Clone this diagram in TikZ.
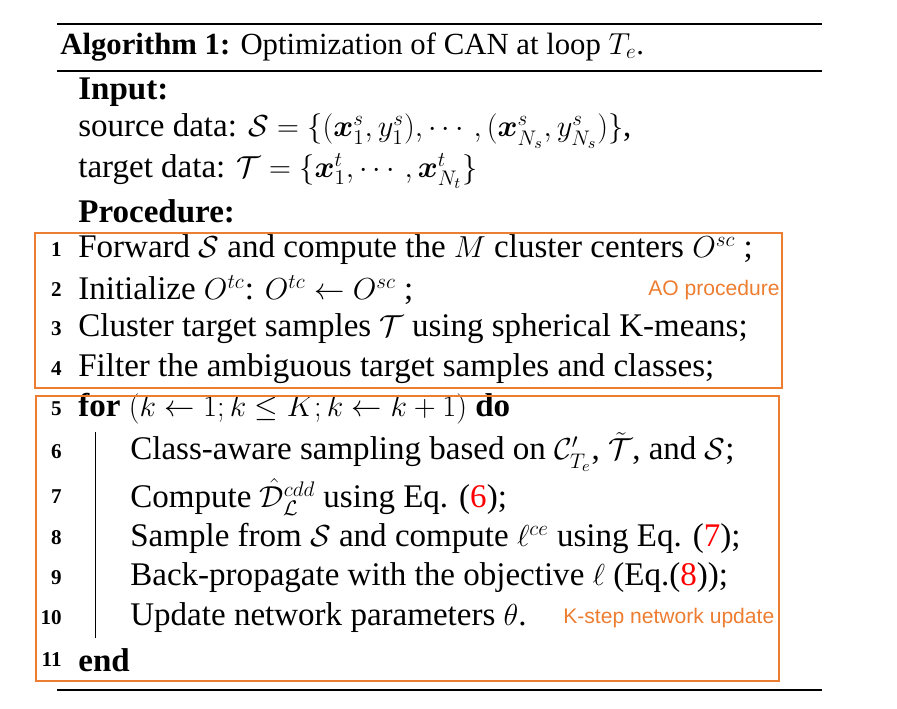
\documentclass[tikz,border=0pt]{standalone}
\usepackage{amsmath,amssymb,bm}
\usepackage{fontspec}
\setmainfont{Liberation Serif}
\newfontfamily\sansf{Liberation Sans}
\usepackage{xcolor}
\definecolor{aoorange}{RGB}{237,125,49}
\newcommand{\xv}{\bm{x}}
\begin{document}
\begin{tikzpicture}[x=0.02cm,y=-0.02cm,
    txt/.style={anchor=west,inner sep=0pt,font=\fontsize{18.8}{22}\selectfont},
    num/.style={anchor=east,inner sep=0pt,font=\bfseries\fontsize{12}{14}\selectfont},
    note/.style={anchor=west,inner sep=0pt,text=aoorange,font=\sansf\fontsize{12}{14}\selectfont}]
    \useasboundingbox (0,0) rectangle (897,709);
    % rules
    \draw[line width=1.6pt] (57,24) -- (822,24);
    \draw[line width=0.9pt] (57,71) -- (822,71);
    \draw[line width=1.6pt] (57,690) -- (822,690);
    \node[txt,font=\fontsize{17.5}{20}\selectfont] (title) at (60,47) {\textbf{Algorithm 1:} Optimization of CAN at loop $T_e$.};
    \node[txt] (input) at (78,92) {\textbf{Input:}};
    \node[txt] (src) at (78,131) {source data: $\mathcal{S}=\{(\xv^s_1,y^s_1),\cdots,(\xv^s_{N_s},y^s_{N_s})\}$,};
    \node[txt] (tgt) at (78,171) {target data: $\mathcal{T}=\{\xv^t_1,\cdots,\xv^t_{N_t}\}$};
    \node[txt] (proc) at (78,211) {\textbf{Procedure:}};
    % steps
    \foreach \n/\y in {1/250,2/290,3/329,4/369,5/409,6/452,7/497,8/538,9/578,10/618,11/660}
        \node[num] (n\n) at (62,\y) {\n};
    \node[txt] (s1) at (78,250) {Forward $\mathcal{S}$ and compute the $M$ cluster centers $O^{sc}$ ;};
    \node[txt] (s2) at (78,290) {Initialize $O^{tc}$: $O^{tc}\leftarrow O^{sc}$ ;};
    \node[txt] (s3) at (78,329) {Cluster target samples $\mathcal{T}$ using spherical K-means;};
    \node[txt] (s4) at (78,369) {Filter the ambiguous target samples and classes;};
    \node[txt] (s5) at (78,409) {\textbf{for} \textit{$(k\leftarrow1;k\le K;k\leftarrow k+1)$} \textbf{do}};
    \node[txt] (s6) at (130,452) {Class-aware sampling based on $\mathcal{C}'_{T_e}$, $\tilde{\mathcal{T}}$, and $\mathcal{S}$;};
    \node[txt] (s7) at (130,497) {Compute $\hat{\mathcal{D}}^{cdd}_{\mathcal{L}}$ using Eq. (\textcolor{red}{6});};
    \node[txt] (s8) at (130,538) {Sample from $\mathcal{S}$ and compute $\ell^{ce}$ using Eq. (\textcolor{red}{7});};
    \node[txt] (s9) at (130,578) {Back-propagate with the objective $\ell$ (Eq.(\textcolor{red}{8}));};
    \node[txt] (s10) at (130,618) {Update network parameters $\theta$.};
    \node[txt] (s11) at (78,660) {\textbf{end}};
    \draw[line width=0.5pt] (95,432) -- (95,638);
    % orange boxes
    \draw[aoorange,line width=0.7pt] (35,233) rectangle (782,388);
    \draw[aoorange,line width=0.7pt] (36,396) rectangle (779,681);
    \node[note] (ao) at (648,290) {AO procedure};
    \node[note] (ks) at (563,618) {K-step network update};
\end{tikzpicture}
\end{document}
